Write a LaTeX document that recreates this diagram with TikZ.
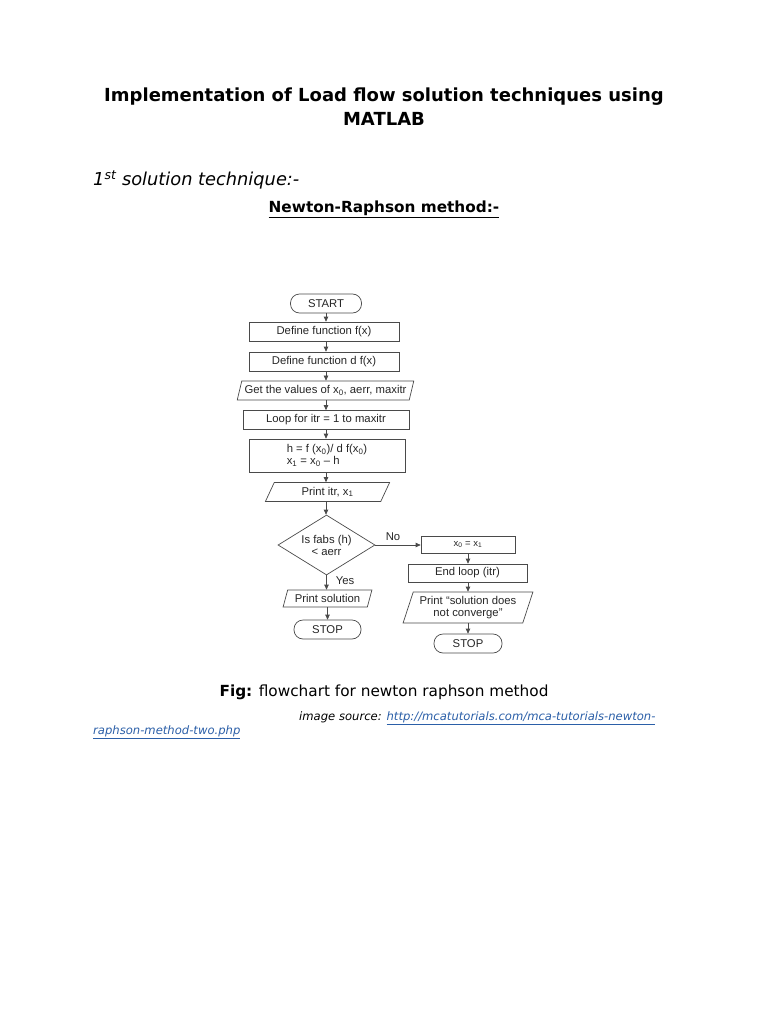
\documentclass[tikz,border=0pt]{standalone}
\usepackage{fontspec}
\setmainfont{DejaVu Sans}
\newfontfamily\fcfont{Liberation Sans}
\usetikzlibrary{shapes.geometric,arrows.meta}
\definecolor{fcgray}{HTML}{4A4A4A}
\definecolor{linkblue}{HTML}{2B5FA8}
\tikzset{
  fcfnt/.style={font=\fcfont\fontsize{11.3}{13}\selectfont, text=black!85},
  fc/.style={draw=fcgray, line width=0.7pt, fcfnt, inner sep=1pt, align=center},
  procbox/.style={fc, rectangle, minimum height=19pt},
  termbox/.style={fc, rectangle, rounded corners=9pt, minimum height=19pt},
  iobox/.style={fc, trapezium, trapezium left angle=70, trapezium right angle=110, trapezium stretches=true, minimum height=19pt, inner xsep=0pt},
  decbox/.style={draw=fcgray, line width=0.7pt, diamond, minimum width=97pt, minimum height=60pt, inner sep=0pt},
  flow/.style={draw=fcgray, line width=0.7pt, -{Triangle[length=5pt,width=4.5pt]}},
  lbl/.style={fcfnt, inner sep=1pt}
}
\begin{document}
\begin{tikzpicture}[x=1pt,y=-1pt]
\useasboundingbox[fill=white] (0,0) rectangle (768,1024);
% headings
\node (t1) at (384,97) {\fontsize{18}{21}\selectfont\bfseries Implementation of Load flow solution techniques using};
\node (t2) at (384,119) {\fontsize{18}{21}\selectfont\bfseries MATLAB};
\node[anchor=west, inner sep=0pt] (t3) at (93,180) {\fontsize{17.8}{20}\selectfont\itshape 1\textsuperscript{st} solution technique:-};
\node (t4) at (384,209) {\fontsize{15.3}{18}\selectfont\bfseries\underline{Newton-Raphson method:-}};
% flowchart main column
\node[termbox, minimum width=71pt] (start) at (326,303.5) {START};
\node[procbox, minimum width=150pt] (deff) at (324,331.5) {Define function f(x)};
\node[procbox, minimum width=150pt] (defd) at (324,361.5) {Define function d f(x)};
\node[iobox, minimum width=177pt] (get) at (325.5,390.5) {Get the values of x\textsubscript{0}, aerr, maxitr};
\node[procbox, minimum width=166pt] (loop) at (326,420) {Loop for itr = 1 to maxitr};
\node[procbox, minimum width=156pt, minimum height=33pt, align=left] (h) at (327,455.5) {h = f (x\textsubscript{0})/ d f(x\textsubscript{0})\\[-1pt]x\textsubscript{1} = x\textsubscript{0} – h};
\node[iobox, minimum width=125pt] (pr) at (327.5,492) {Print itr, x\textsubscript{1}};
\node[decbox, label={[fcfnt, align=center]center:Is fabs (h)\\[-1pt]< aerr}] (dec) at (326.5,545) {};
\node[iobox, minimum width=89pt, minimum height=17pt] (ps) at (327.5,598.5) {Print solution};
\node[termbox, minimum width=67pt] (stop1) at (327.5,629.5) {STOP};
% right column
\node[procbox, minimum width=94pt, minimum height=17pt] (upd) at (468,544.5) {\fontsize{9.5}{11}\selectfont x\textsubscript{0} = x\textsubscript{1}};
\node[procbox, minimum width=119pt, minimum height=18pt] (endl) at (467.5,573) {End loop (itr)};
\node[iobox, minimum width=130pt, minimum height=31pt] (pnc) at (468,607.5) {Print “solution does\\[-1pt]not converge”};
\node[termbox, minimum width=68pt] (stop2) at (468,643.5) {STOP};
% connectors
\draw[flow] (start.south) -- (start.south |- deff.north);
\draw[flow] (start.south |- deff.south) -- (start.south |- defd.north);
\draw[flow] (start.south |- defd.south) -- (start.south |- get.north);
\draw[flow] (start.south |- get.south) -- (start.south |- loop.north);
\draw[flow] (loop.south) -- (loop.south |- h.north);
\draw[flow] (loop.south |- h.south) -- (loop.south |- pr.north);
\draw[flow] (loop.south |- pr.south) -- (loop.south |- dec.north);
\draw[flow] (dec.south) -- (dec.south |- ps.north);
\draw[flow] (ps.south) -- (ps.south |- stop1.north);
\draw[flow] (dec.east) -- (upd.west |- dec.east);
\draw[flow] (upd.south) -- (upd.south |- endl.north);
\draw[flow] (upd.south |- endl.south) -- (upd.south |- pnc.north);
\draw[flow] (upd.south |- pnc.south) -- (upd.south |- stop2.north);
\node[lbl] (no) at (393,537) {No};
\node[lbl] (yes) at (345,581) {Yes};
% caption
\node (cap) at (384,692) {\fontsize{15.3}{18}\selectfont\textbf{Fig:} flowchart for newton raphson method};
\node[anchor=west, inner sep=0pt] (src1) at (299,718) {\fontsize{11.6}{14}\selectfont\itshape image source: \textcolor{linkblue}{\underline{http://mcatutorials.com/mca-tutorials-newton-}}};
\node[anchor=west, inner sep=0pt] (src2) at (93,732) {\fontsize{11.6}{14}\selectfont\itshape\textcolor{linkblue}{\underline{raphson-method-two.php}}};
\end{tikzpicture}
\end{document}
